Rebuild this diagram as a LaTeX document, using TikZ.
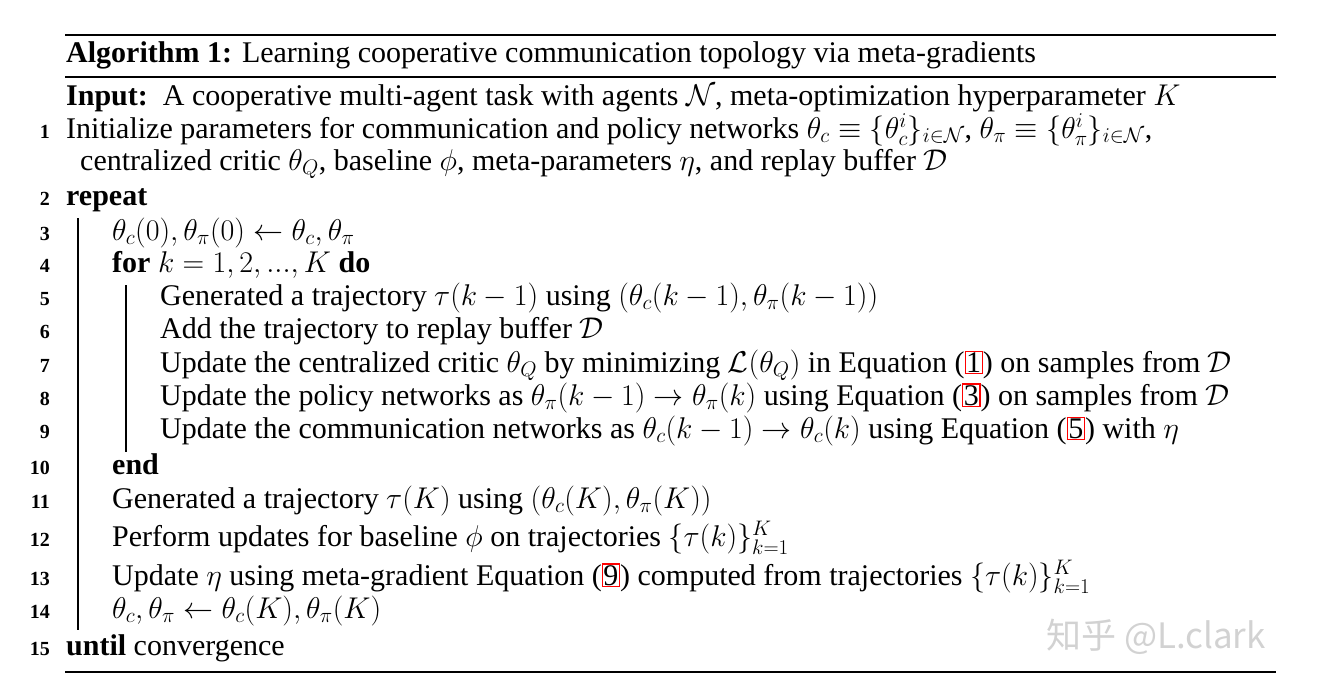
\RequirePackage{fix-cm}
\documentclass[tikz,border=0pt]{standalone}
\usepackage{amsmath,amssymb}
\usepackage{fontspec}
\setmainfont{Liberation Serif}
\newfontfamily\cjk{Noto Sans CJK SC}
\newcommand{\redref}[1]{{\setlength{\fboxsep}{0.5pt}\setlength{\fboxrule}{1.2pt}\fcolorbox{red}{white}{#1}}}
\begin{document}
\begin{tikzpicture}[x=1pt,y=-1pt,
  txt/.style={anchor=base west,inner sep=0pt,font=\fontsize{30}{34}\selectfont},
  num/.style={anchor=base east,inner sep=0pt,font=\fontsize{20}{24}\selectfont\bfseries},
  rulebar/.style={line width=1.2pt}]
\useasboundingbox (0,0) rectangle (1332,689);
\draw[line width=2.5pt] (65,35) -- (1276,35);
\draw[line width=1.5pt] (65,77) -- (1276,77);
\draw[line width=2.5pt] (65,672) -- (1276,672);
\node[txt] (t) at (66,62) {\textbf{Algorithm 1:} Learning cooperative communication topology via meta-gradients};
\node[txt] (in) at (66,105) {\textbf{Input:}\ \ A cooperative multi-agent task with agents $\mathcal{N}$, meta-optimization hyperparameter $K$};
\node[num] (n1) at (50,138) {1};
\node[txt] (l1) at (66,138) {Initialize parameters for communication and policy networks $\theta_c\equiv\{\theta_c^i\}_{i\in\mathcal{N}}$, $\theta_\pi\equiv\{\theta_\pi^i\}_{i\in\mathcal{N}}$,};
\node[txt] (l1b) at (80,170) {centralized critic $\theta_Q$, baseline $\phi$, meta-parameters $\eta$, and replay buffer $\mathcal{D}$};
\node[num] (n2) at (50,205) {2};
\node[txt] (l2) at (66,205) {\textbf{repeat}};
\node[num] (n3) at (50,240) {3};
\node[txt] (l3) at (112,240) {$\theta_c(0),\theta_\pi(0)\leftarrow\theta_c,\theta_\pi$};
\node[num] (n4) at (50,272) {4};
\node[txt] (l4) at (112,272) {\textbf{for} $k=1,2,...,K$ \textbf{do}};
\node[num] (n5) at (50,305) {5};
\node[txt] (l5) at (160,305) {Generated a trajectory $\tau(k-1)$ using $(\theta_c(k-1),\theta_\pi(k-1))$};
\node[num] (n6) at (50,338) {6};
\node[txt] (l6) at (160,338) {Add the trajectory to replay buffer $\mathcal{D}$};
\node[num] (n7) at (50,372) {7};
\node[txt] (l7) at (160,372) {Update the centralized critic $\theta_Q$ by minimizing $\mathcal{L}(\theta_Q)$ in Equation (\redref{1}) on samples from $\mathcal{D}$};
\node[num] (n8) at (50,405) {8};
\node[txt] (l8) at (160,405) {Update the policy networks as $\theta_\pi(k-1)\rightarrow\theta_\pi(k)$ using Equation (\redref{3}) on samples from $\mathcal{D}$};
\node[num] (n9) at (50,438) {9};
\node[txt] (l9) at (160,438) {Update the communication networks as $\theta_c(k-1)\rightarrow\theta_c(k)$ using Equation (\redref{5}) with $\eta$};
\node[num] (n10) at (50,474) {10};
\node[txt] (l10) at (112,474) {\textbf{end}};
\node[num] (n11) at (50,508) {11};
\node[txt] (l11) at (112,508) {Generated a trajectory $\tau(K)$ using $(\theta_c(K),\theta_\pi(K))$};
\node[num] (n12) at (50,546) {12};
\node[txt] (l12) at (112,546) {Perform updates for baseline $\phi$ on trajectories $\{\tau(k)\}_{k=1}^K$};
\node[num] (n13) at (50,585) {13};
\node[txt] (l13) at (112,585) {Update $\eta$ using meta-gradient Equation (\redref{9}) computed from trajectories $\{\tau(k)\}_{k=1}^K$};
\node[num] (n14) at (50,618) {14};
\node[txt] (l14) at (112,618) {$\theta_c,\theta_\pi\leftarrow\theta_c(K),\theta_\pi(K)$};
\node[num] (n15) at (50,655) {15};
\node[txt] (l15) at (66,655) {\textbf{until} convergence};
\draw[rulebar] (78,218) -- (78,630);
\draw[rulebar] (126,285) -- (126,452);
\node[anchor=base west,inner sep=0pt,text=gray!35,font=\fontsize{35}{38}\selectfont] (wm) at (1046,648) {\cjk 知乎 @L.clark};
\end{tikzpicture}
\end{document}
